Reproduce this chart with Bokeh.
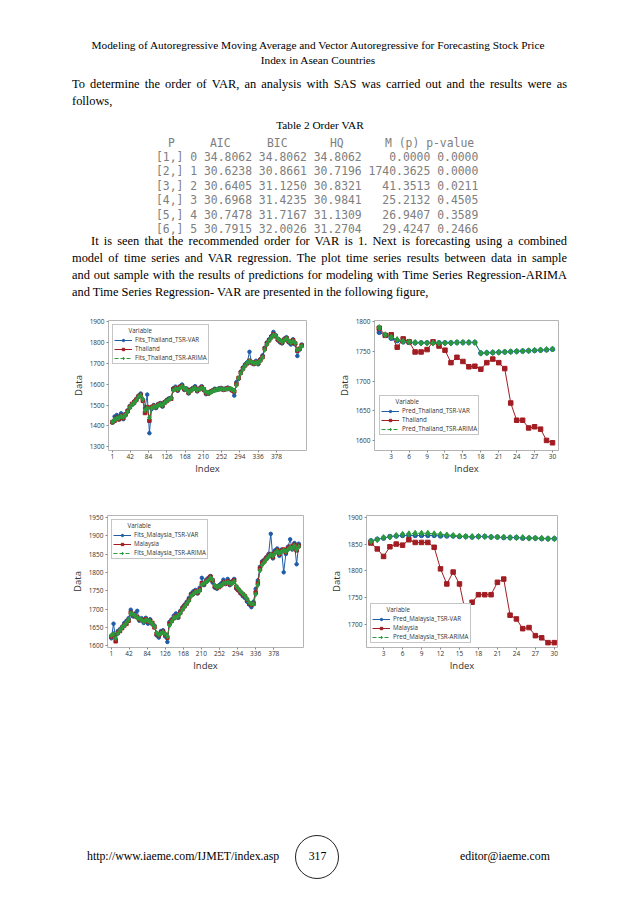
from bokeh.plotting import figure
from bokeh.models import Range1d, FixedTicker, Legend, LegendItem, Div
from bokeh.layouts import column, row
from bokeh.embed import file_html
from bokeh.resources import INLINE

# ---------------- page text ----------------
header_lines = ["Modeling of Autoregressive Moving Average and Vector Autoregressive for Forecasting Stock Price",
                "Index in Asean Countries"]
para1 = ["To determine the order of VAR, an analysis with SAS was carried out and the results were as",
         "follows,"]
table_title = "Table 2 Order VAR"
table_header = ["P", "AIC", "BIC", "HQ", "M (p) p-value"]
table_rows = ["[1,] 0 34.8062 34.8062 34.8062    0.0000 0.0000",
              "[2,] 1 30.6238 30.8661 30.7196 1740.3625 0.0000",
              "[3,] 2 30.6405 31.1250 30.8321   41.3513 0.0211",
              "[4,] 3 30.6968 31.4235 30.9841   25.2132 0.4505",
              "[5,] 4 30.7478 31.7167 31.1309   26.9407 0.3589",
              "[6,] 5 30.7915 32.0026 31.2704   29.4247 0.2466"]
para2 = ["It is seen that the recommended order for VAR is 1. Next is forecasting using a combined",
         "model of time series and VAR regression. The plot time series results between data in sample",
         "and out sample with the results of predictions for modeling with Time Series Regression-ARIMA",
         "and Time Series Regression- VAR are presented in the following figure,"]
footer_url = "http://www.iaeme.com/IJMET/index.asp"
footer_page = "317"
footer_mail = "editor@iaeme.com"

# ---------------- chart data ----------------
# in-sample index (every 5th observation read from the plots)
in_idx = list(range(1, 437, 5))
in_ticks = [1, 42, 84, 126, 168, 210, 252, 294, 336, 378]

th_actual = [1418, 1425, 1440, 1432, 1448, 1438, 1455, 1470, 1490, 1505,
             1512, 1525, 1540, 1548, 1520, 1462, 1490, 1425, 1490, 1495,
             1490, 1500, 1505, 1498, 1512, 1520, 1528, 1530, 1575, 1580,
             1572, 1585, 1590, 1578, 1575, 1560, 1570, 1578, 1582, 1570,
             1576, 1585, 1575, 1560, 1555, 1562, 1568, 1572, 1575, 1577,
             1578, 1575, 1576, 1580, 1578, 1572, 1565, 1600, 1630, 1655,
             1675, 1690, 1700, 1712, 1705, 1698, 1705, 1700, 1715, 1730,
             1770, 1795, 1810, 1825, 1838, 1830, 1815, 1808, 1800, 1812,
             1820, 1805, 1798, 1810, 1795, 1760, 1770, 1785]
th_fit_var = [1415, 1445, 1452, 1430, 1460, 1432, 1450, 1475, 1495, 1500,
              1518, 1530, 1545, 1555, 1525, 1485, 1550, 1365, 1480, 1500,
              1485, 1505, 1510, 1492, 1515, 1525, 1532, 1535, 1580, 1588,
              1568, 1590, 1598, 1572, 1580, 1555, 1575, 1582, 1590, 1565,
              1580, 1590, 1570, 1552, 1558, 1565, 1570, 1578, 1572, 1580,
              1582, 1572, 1580, 1584, 1575, 1568, 1545, 1610, 1625, 1660,
              1680, 1695, 1705, 1755, 1700, 1695, 1712, 1695, 1720, 1738,
              1775, 1800, 1815, 1830, 1850, 1835, 1810, 1800, 1795, 1818,
              1825, 1800, 1790, 1815, 1790, 1735, 1765, 1790]
th_fit_arima = [1420, 1428, 1436, 1438, 1445, 1442, 1452, 1468, 1488, 1502,
                1510, 1522, 1538, 1545, 1528, 1475, 1485, 1440, 1485, 1492,
                1492, 1498, 1502, 1500, 1510, 1518, 1526, 1532, 1570, 1578,
                1575, 1582, 1588, 1580, 1576, 1562, 1568, 1576, 1580, 1572,
                1575, 1582, 1576, 1562, 1558, 1560, 1566, 1570, 1574, 1576,
                1577, 1576, 1575, 1578, 1579, 1574, 1568, 1595, 1628, 1652,
                1672, 1688, 1702, 1710, 1706, 1700, 1703, 1702, 1712, 1728,
                1765, 1790, 1808, 1822, 1835, 1832, 1818, 1810, 1802, 1810,
                1818, 1808, 1800, 1806, 1798, 1765, 1768, 1782]

my_actual = [1625, 1630, 1612, 1635, 1640, 1648, 1655, 1660, 1668, 1690,
             1685, 1680, 1678, 1672, 1670, 1668, 1672, 1666, 1668, 1662,
             1650, 1632, 1628, 1635, 1638, 1630, 1622, 1660, 1668, 1675,
             1680, 1678, 1690, 1700, 1708, 1715, 1725, 1738, 1742, 1748,
             1745, 1752, 1770, 1768, 1775, 1780, 1788, 1778, 1762, 1758,
             1760, 1765, 1772, 1770, 1775, 1768, 1772, 1778, 1760, 1752,
             1745, 1740, 1735, 1725, 1715, 1712, 1714, 1745, 1770, 1810,
             1825, 1830, 1838, 1845, 1850, 1842, 1855, 1860, 1850, 1858,
             1862, 1855, 1865, 1870, 1868, 1875, 1860, 1872]
my_fit_var = [1620, 1660, 1618, 1640, 1645, 1652, 1662, 1668, 1675, 1698,
              1680, 1688, 1695, 1668, 1675, 1662, 1676, 1660, 1672, 1658,
              1655, 1628, 1622, 1640, 1642, 1625, 1610, 1665, 1672, 1682,
              1688, 1676, 1695, 1705, 1712, 1720, 1730, 1742, 1748, 1752,
              1742, 1758, 1785, 1765, 1780, 1785, 1790, 1772, 1758, 1755,
              1765, 1770, 1780, 1768, 1782, 1765, 1776, 1782, 1755, 1750,
              1742, 1735, 1730, 1720, 1712, 1705, 1720, 1755, 1778, 1815,
              1830, 1835, 1842, 1850, 1905, 1838, 1860, 1865, 1845, 1862,
              1800, 1850, 1870, 1890, 1862, 1880, 1822, 1878]
my_fit_arima = [1628, 1632, 1620, 1633, 1642, 1650, 1655, 1662, 1670, 1688,
                1686, 1682, 1676, 1674, 1670, 1666, 1670, 1668, 1666, 1660,
                1652, 1635, 1630, 1633, 1636, 1632, 1625, 1655, 1666, 1676,
                1678, 1680, 1688, 1698, 1706, 1714, 1722, 1735, 1740, 1746,
                1747, 1750, 1766, 1770, 1774, 1778, 1785, 1780, 1765, 1760,
                1762, 1764, 1770, 1771, 1773, 1770, 1770, 1775, 1762, 1755,
                1748, 1742, 1736, 1728, 1718, 1714, 1713, 1740, 1765, 1805,
                1820, 1828, 1836, 1842, 1848, 1845, 1852, 1858, 1852, 1856,
                1860, 1857, 1862, 1868, 1866, 1872, 1862, 1870]

# out-of-sample (30 steps)
out_idx = list(range(1, 31))
out_ticks = [3, 6, 9, 12, 15, 18, 21, 24, 27, 30]
th_out_actual = [1789, 1777, 1778, 1757, 1771, 1766, 1749, 1749, 1753, 1766,
                 1759, 1752, 1731, 1740, 1733, 1724, 1725, 1720, 1731, 1737,
                 1731, 1721, 1663, 1634, 1634, 1621, 1623, 1619, 1600, 1596]
th_pred_var = [1782, 1777, 1772, 1768, 1766, 1765, 1764.5, 1764.5, 1764.5, 1764.5,
               1764.5, 1764.5, 1764.5, 1765, 1765, 1765, 1765, 1747, 1747.5, 1748,
               1748.5, 1749, 1749.5, 1750, 1750.5, 1751, 1751.5, 1752, 1752.5, 1753.5]
th_pred_arima = [1790, 1778, 1774, 1770, 1767, 1766, 1765, 1764, 1764, 1764,
                 1764, 1764, 1764, 1765, 1765, 1765, 1765, 1747, 1747.5, 1748,
                 1748.5, 1749, 1749.5, 1750, 1750.5, 1751, 1752, 1752.5, 1753, 1754]
my_out_actual = [1852, 1841, 1827, 1845, 1850, 1848, 1858, 1853, 1853, 1853,
                 1844, 1804, 1776, 1798, 1776, 1720, 1742, 1756, 1756, 1756,
                 1779, 1785, 1718, 1711, 1693, 1695, 1680, 1676, 1667, 1667]
my_pred_var = [1856, 1859, 1861, 1864, 1865, 1866, 1866, 1866, 1866, 1866,
               1866, 1865, 1865, 1865, 1864, 1864, 1863, 1864, 1864, 1863,
               1863, 1862, 1862, 1862, 1861, 1861, 1861, 1860, 1860, 1860]
my_pred_arima = [1855, 1858, 1862, 1863, 1866, 1868, 1869, 1870, 1870, 1870,
                 1869, 1868, 1867, 1866, 1865, 1864, 1864, 1864, 1864, 1863,
                 1863, 1863, 1862, 1862, 1862, 1861, 1861, 1861, 1860, 1860]

BLUE = "#1f5ca8"
RED = "#a11d22"
GREEN = "#2a9a3c"
CHART_FONT = "Open Sans"
SERIF = "'Liberation Serif', 'Times New Roman', serif"
MONO = "'DejaVu Sans Mono', monospace"


def tbox(x, y, text, size, oy, width=None, center=False, justify=False,
         family=SERIF, color="#000000", pre=False, lh=None):
    lh = lh if lh else size
    left = x
    top = round(y + 1 - oy - lh / 2, 2)
    st = (f"position:absolute;left:{left}px;top:{top}px;font-family:{family};"
          f"font-size:{size}px;line-height:{lh}px;color:{color};margin:0;padding:0;")
    if width:
        st += f"width:{width}px;"
    if center:
        st += "text-align:center;white-space:nowrap;"
    elif justify:
        st += "text-align:justify;text-align-last:justify;"
    elif pre:
        st += "white-space:pre;"
    else:
        st += "white-space:nowrap;"
    return f'<div style="{st}">{text}</div>'


# ---------- top text block (page y 0..308) ----------
OY = 0
parts = []
parts.append(tbox(38, 45, header_lines[0], 11.3, OY, width=560, center=True))
parts.append(tbox(38, 60, header_lines[1], 11.3, OY, width=560, center=True))
parts.append(tbox(72, 83, para1[0], 12.4, OY, width=495, justify=True))
parts.append(tbox(72, 100, para1[1], 12.4, OY))
parts.append(tbox(220, 125, table_title, 11.3, OY, width=200, center=True))
hdr_x = [168, 210, 267, 330, 385]
for hx, ht in zip(hdr_x, table_header):
    parts.append(tbox(hx, 142.5, ht, 11.4, OY, family=MONO, color="#7e7e7e", pre=True, lh=11))
for i, r in enumerate(table_rows):
    parts.append(tbox(156, 156.5 + 14.4 * i, r, 11.4, OY, family=MONO, color="#7e7e7e", pre=True, lh=11))
parts.append(tbox(91, 240.5, para2[0], 12.4, OY, width=476, justify=True))
parts.append(tbox(72, 257, para2[1], 12.4, OY, width=495, justify=True))
parts.append(tbox(72, 274, para2[2], 12.4, OY, width=495, justify=True))
parts.append(tbox(72, 291, para2[3], 12.4, OY))
top_div = Div(text='<div style="position:relative;width:630px;height:308px;overflow:hidden;">'
              + "".join(parts) + "</div>", width=630, height=308, margin=(0, 0, 0, 0))

# ---------- footer block (page y 690..895) ----------
OY2 = 690
fparts = []
fparts.append(tbox(87, 856, footer_url, 11.8, OY2))
fparts.append('<div style="position:absolute;left:295px;top:145px;width:44px;height:44px;'
              'border:1px solid #222;border-radius:50%;box-sizing:border-box;"></div>')
fparts.append(tbox(297.5, 856, footer_page, 11.8, OY2, width=40, center=True))
fparts.append(tbox(460, 856, footer_mail, 11.8, OY2))
foot_div = Div(text='<div style="position:relative;width:630px;height:205px;overflow:hidden;">'
               + "".join(fparts) + "</div>", width=630, height=205, margin=(0, 0, 0, 0))


def chart(width, height, borders, xr, yr, xticks, yticks, x, var, act, ari,
          labels, msize, legend_loc, legend_margin=4):
    bl, br, bt, bb = borders
    p = figure(width=width, height=height, x_range=Range1d(*xr), y_range=Range1d(*yr),
               output_backend="svg", toolbar_location=None, title=None,
               min_border_left=bl, min_border_right=br, min_border_top=bt,
               min_border_bottom=bb, margin=(0, 0, 0, 0))
    p.grid.visible = False
    p.outline_line_color = "#b4b4b4"
    p.outline_line_width = 1
    p.xaxis.ticker = FixedTicker(ticks=xticks)
    p.yaxis.ticker = FixedTicker(ticks=yticks)
    for ax in (p.xaxis[0], p.yaxis[0]):
        ax.axis_line_color = None
        ax.major_tick_line_color = "#8a8a8a"
        ax.major_tick_out = 2
        ax.major_tick_in = 0
        ax.minor_tick_line_color = None
        ax.major_label_text_font = CHART_FONT
        ax.major_label_text_font_size = "6.5px"
        ax.major_label_text_color = "#333333"
        ax.axis_label_text_font = CHART_FONT
        ax.axis_label_text_font_size = "9.5px"
        ax.axis_label_text_font_style = "normal"
        ax.axis_label_text_color = "#333333"
    p.xaxis.major_label_standoff = 1
    p.xaxis.axis_label_standoff = 0
    p.yaxis.major_label_standoff = 2
    p.yaxis.axis_label_standoff = 2
    p.xaxis.axis_label = "Index"
    p.yaxis.axis_label = "Data"

    l1 = p.line(x, var, line_color=BLUE, line_width=1)
    s1 = p.scatter(x, var, marker="circle", size=msize, color=BLUE)
    l2 = p.line(x, act, line_color=RED, line_width=1)
    s2 = p.scatter(x, act, marker="square", size=msize, color=RED)
    l3 = p.line(x, ari, line_color=GREEN, line_width=1, line_dash="4 2")
    s3 = p.scatter(x, ari, marker="diamond", size=msize + 1.5, color=GREEN)

    leg = Legend(items=[LegendItem(label=labels[0], renderers=[l1, s1]),
                        LegendItem(label=labels[1], renderers=[l2, s2]),
                        LegendItem(label=labels[2], renderers=[l3, s3])],
                 title="\u00a0" * 9 + "Variable", location=legend_loc,
                 margin=legend_margin)
    leg.border_line_color = "#8c8c8c"
    leg.background_fill_color = "white"
    leg.background_fill_alpha = 1
    leg.label_text_font = CHART_FONT
    leg.label_text_font_size = "6.2px"
    leg.label_text_color = "#333333"
    leg.title_text_font = CHART_FONT
    leg.title_text_font_size = "6.2px"
    leg.title_text_font_style = "normal"
    leg.title_text_color = "#333333"
    leg.title_standoff = 0
    leg.glyph_width = 18
    leg.glyph_height = 6
    leg.label_height = 6
    leg.label_standoff = 3
    leg.spacing = 0
    leg.padding = 1
    p.add_layout(leg)
    return p


p1 = chart(325, 192, (108, 19, 9, 50), (-8, 447), (1282, 1905), in_ticks,
           [1300, 1400, 1500, 1600, 1700, 1800, 1900], in_idx,
           th_fit_var, th_actual, th_fit_arima,
           ["Fits_Thailand_TSR-VAR", "Thailand", "Fits_Thailand_TSR-ARIMA"],
           3.5, "top_left")
p2 = chart(305, 192, (49, 72, 12, 50), (0.2, 31.0), (1583, 1802), out_ticks,
           [1600, 1650, 1700, 1750, 1800], out_idx,
           th_pred_var, th_out_actual, th_pred_arima,
           ["Pred_Thailand_TSR-VAR", "Thailand", "Pred_Thailand_TSR-ARIMA"],
           4.5, (5, 15))
p3 = chart(325, 190, (107, 22, 15, 43), (-8, 447), (1595, 1955), in_ticks,
           [1600, 1650, 1700, 1750, 1800, 1850, 1900, 1950], in_idx,
           my_fit_var, my_actual, my_fit_arima,
           ["Fits_Malaysia_TSR-VAR", "Malaysia", "Fits_Malaysia_TSR-ARIMA"],
           3.5, "top_left")
p4 = chart(305, 190, (41, 73, 15, 43), (0.3, 30.5), (1658, 1903), out_ticks,
           [1700, 1750, 1800, 1850, 1900], out_idx,
           my_pred_var, my_out_actual, my_pred_arima,
           ["Pred_Malaysia_TSR-VAR", "Malaysia", "Pred_Malaysia_TSR-ARIMA"],
           4.5, "bottom_left")

layout = column(top_div, row(p1, p2, spacing=0), row(p3, p4, spacing=0), foot_div, spacing=0)

with open("out.html", "w") as f:
    f.write(file_html(layout, INLINE, title="page 317"))
